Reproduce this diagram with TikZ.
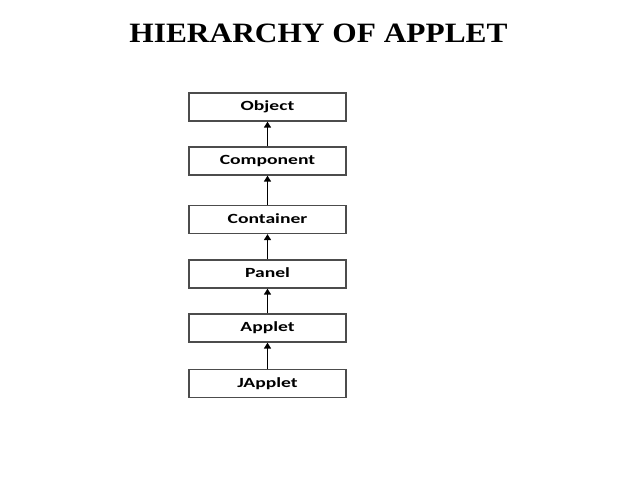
\documentclass[tikz,border=0pt]{standalone}
\usepackage{fontspec}
\setmainfont{Liberation Serif}
\newfontfamily\boxfont{Carlito}
\usetikzlibrary{arrows.meta}
\newcommand{\boxtxt}[1]{\raisebox{2.5pt}{\scalebox{1.4}[1]{#1}}}
\begin{document}
\begin{tikzpicture}[x=1pt,y=-1pt,
  cls/.style={draw=black!70,line width=1.3pt,minimum width=157pt,minimum height=28pt,inner sep=0pt,
    font=\boxfont\bfseries\fontsize{14}{14}\selectfont},
  inh/.style={-{Triangle[length=6pt,width=7pt]},line width=1.8pt,black}]
\useasboundingbox (0,0) rectangle (638,478);
\node[font=\bfseries\fontsize{28}{28}\selectfont,anchor=base] (title) at (318.5,43) {\scalebox{1.12}[1]{HIERARCHY OF APPLET}};
\node[cls] (obj) at (267.5,107) {\boxtxt{Object}};
\node[cls] (comp) at (267.5,161) {\boxtxt{Component}};
\node[cls] (cont) at (267.5,219.5) {\boxtxt{Container}};
\node[cls] (pan) at (267.5,274) {\boxtxt{Panel}};
\node[cls] (app) at (267.5,328) {\boxtxt{Applet}};
\node[cls] (japp) at (267.5,383.5) {\boxtxt{JApplet}};
\draw[inh] (comp.north) -- (obj.south);
\draw[inh] (cont.north) -- (comp.south);
\draw[inh] (pan.north) -- (cont.south);
\draw[inh] (app.north) -- (pan.south);
\draw[inh] (japp.north) -- (app.south);
\end{tikzpicture}
\end{document}
